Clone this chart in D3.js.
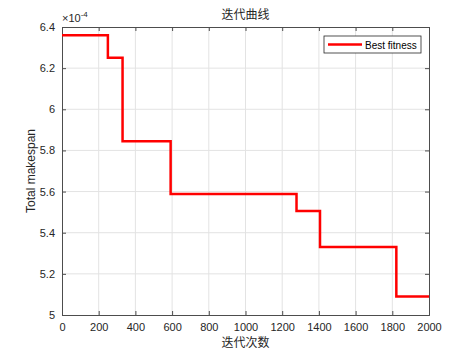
<!DOCTYPE html>
<html>
<head>
<meta charset="utf-8">
<script src="https://cdn.jsdelivr.net/npm/d3@7"></script>
<style>
  html, body { margin: 0; padding: 0; background: #fff; }
  svg { display: block; font-family: "Liberation Sans", Arial, sans-serif; }
  .grid line { stroke: #e3e3e3; stroke-width: 1; }
  .axis path, .axis line { stroke: #4d4d4d; }
  .axis text { fill: #262626; font-size: 11px; }
</style>
</head>
<body>
<div id="chart"></div>
<script>
// best fitness at the iterations where it improves (x 1e-4)
const iterations = [0, 250, 330, 592, 1278, 1406, 1822, 2000];
const bestFitness = [6.36, 6.25, 5.845, 5.588, 5.505, 5.33, 5.09, 5.09];
const xTicks = [0, 200, 400, 600, 800, 1000, 1200, 1400, 1600, 1800, 2000];
const yTicks = [5, 5.2, 5.4, 5.6, 5.8, 6, 6.2, 6.4];

const W = 474, H = 355;
const m = { top: 27, right: 45, bottom: 40, left: 62 };
const w = W - m.left - m.right;
const h = H - m.top - m.bottom;

const svg = d3.select('#chart').append('svg')
    .attr('width', W).attr('height', H);
const g = svg.append('g').attr('transform', `translate(${m.left},${m.top})`);

const x = d3.scaleLinear().domain([0, 2000]).range([0, w]);
const y = d3.scaleLinear().domain([5, 6.4]).range([h, 0]);

// Grid
g.append('g').attr('class', 'grid')
    .selectAll('line').data(xTicks.slice(1, -1)).enter().append('line')
    .attr('x1', d => x(d)).attr('x2', d => x(d))
    .attr('y1', 0).attr('y2', h);
g.append('g').attr('class', 'grid')
    .selectAll('line').data(yTicks.slice(1, -1)).enter().append('line')
    .attr('x1', 0).attr('x2', w)
    .attr('y1', d => y(d)).attr('y2', d => y(d));

// Axes (ticks inward, box on)
const fmt = d => d3.format('~g')(d);
g.append('g').attr('class', 'axis')
    .attr('transform', `translate(0,${h})`)
    .call(d3.axisBottom(x).tickValues(xTicks).tickSize(-4).tickPadding(8).tickFormat(d3.format('d')));
g.append('g').attr('class', 'axis')
    .call(d3.axisTop(x).tickValues(xTicks).tickSize(-4).tickFormat(''));
g.append('g').attr('class', 'axis')
    .call(d3.axisLeft(y).tickValues(yTicks).tickSize(-4).tickPadding(7).tickFormat(fmt));
g.append('g').attr('class', 'axis')
    .attr('transform', `translate(${w},0)`)
    .call(d3.axisRight(y).tickValues(yTicks).tickSize(-4).tickFormat(''));
g.selectAll('.axis path').attr('stroke-width', 1);

// Line
const pts = iterations.map((it, i) => [it, bestFitness[i]]);
const line = d3.line()
    .x(d => x(d[0])).y(d => y(d[1]))
    .curve(d3.curveStepAfter);
g.append('path').datum(pts)
    .attr('d', line)
    .attr('fill', 'none')
    .attr('stroke', '#ff0000')
    .attr('stroke-width', 2.5);

// Exponent label
const ex = g.append('text')
    .attr('x', 0).attr('y', -5)
    .attr('fill', '#262626').attr('font-size', '11px');
ex.append('tspan').text('\u00d710');
ex.append('tspan').attr('dy', -5).attr('font-size', '8px').text('-4');

// Title and axis labels
svg.append('text')
    .attr('x', m.left + w / 2).attr('y', 19)
    .attr('text-anchor', 'middle')
    .attr('font-family', '"Noto Sans CJK SC", sans-serif')
    .attr('font-size', '12px').attr('fill', '#262626')
    .text('迭代曲线');
svg.append('text')
    .attr('x', m.left + w / 2).attr('y', 347)
    .attr('text-anchor', 'middle')
    .attr('font-family', '"Noto Sans CJK SC", sans-serif')
    .attr('font-size', '12px').attr('fill', '#262626')
    .text('迭代次数');
svg.append('text')
    .attr('transform', `translate(35,${m.top + h / 2}) rotate(-90)`)
    .attr('text-anchor', 'middle')
    .attr('font-size', '12px').attr('fill', '#262626')
    .text('Total makespan');

// Legend
const lg = g.append('g').attr('transform', `translate(${w - 105},${9})`);
lg.append('rect')
    .attr('width', 97).attr('height', 17)
    .attr('fill', '#fff').attr('stroke', '#262626').attr('stroke-width', 0.8);
lg.append('line')
    .attr('x1', 4).attr('x2', 38).attr('y1', 8.5).attr('y2', 8.5)
    .attr('stroke', '#ff0000').attr('stroke-width', 2.5);
lg.append('text')
    .attr('x', 41).attr('y', 12.5)
    .attr('font-size', '10px').attr('fill', '#000')
    .text('Best fitness');
</script>
</body>
</html>
